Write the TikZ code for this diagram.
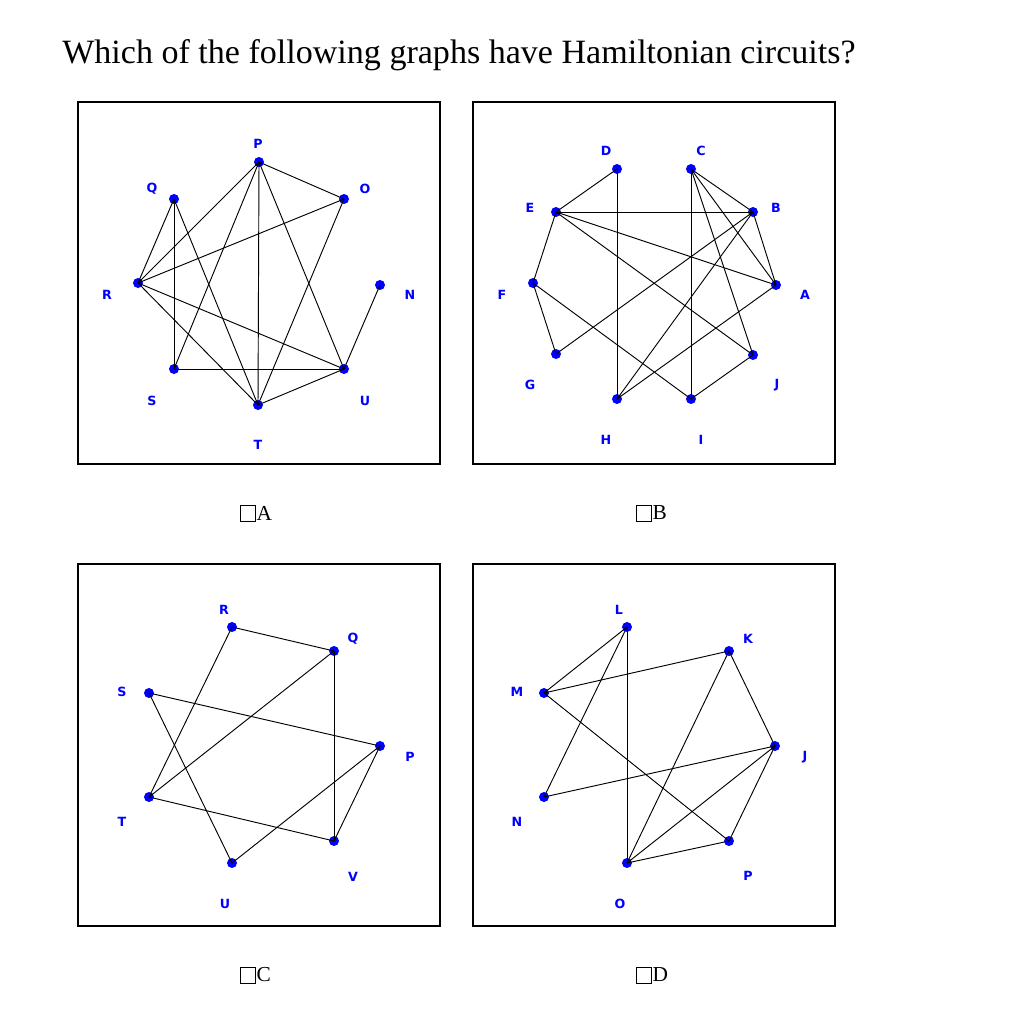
\documentclass[tikz,border=0pt]{standalone}
\usepackage{fontspec}
\setmainfont{Liberation Serif}
\newfontfamily\lblfont{DejaVu Sans}
\begin{document}
\begin{tikzpicture}[x=0.75pt,y=-0.75pt,
  vtx/.style={circle,fill=blue,inner sep=0pt,minimum size=7.5pt},
  lbl/.style={text=blue,font=\lblfont\bfseries\fontsize{9.5}{10}\selectfont,inner sep=0pt},
  edge/.style={draw=black,line width=0.7pt},
  panel/.style={draw=black,line width=1pt},
  choice/.style={font=\fontsize{16}{18}\selectfont,inner sep=0pt}]
\useasboundingbox (0,0) rectangle (1019,1024);
\node[anchor=west,inner sep=0pt] (title) at (62,55) {\resizebox{595pt}{!}{\fontsize{21}{24}\selectfont Which of the following graphs have Hamiltonian circuits?}};
% panels
\draw[panel] (78,102) rectangle (440,464);
\draw[panel] (473,102) rectangle (835,464);
\draw[panel] (78,564) rectangle (440,926);
\draw[panel] (473,564) rectangle (835,926);
% choices
\newcommand{\chk}[3]{\node[draw,line width=0.6pt,minimum width=11pt,minimum height=12pt,inner sep=0pt] (#3box) at (#1,#2) {};
  \node[choice,anchor=west] (#3lab) at ([xshift=0.5pt]#3box.east) {#3};}
\chk{248}{513}{A}
\chk{644}{513}{B}
\chk{248}{975}{C}
\chk{644}{975}{D}
% ---- Graph A
\begin{scope}
\node[vtx] (aP) at (259,162) {}; \node[vtx] (aQ) at (174,199) {};
\node[vtx] (aO) at (344,199) {}; \node[vtx] (aR) at (138,283) {};
\node[vtx] (aN) at (380,285) {}; \node[vtx] (aS) at (174,369) {};
\node[vtx] (aU) at (344,369) {}; \node[vtx] (aT) at (258,405) {};
\node[lbl] (laP) at (258,144) {P}; \node[lbl] (laQ) at (152,189) {Q};
\node[lbl] (laO) at (365,189) {O}; \node[lbl] (laR) at (107,295) {R};
\node[lbl] (laN) at (410,295) {N}; \node[lbl] (laS) at (152,401) {S};
\node[lbl] (laU) at (365,401) {U}; \node[lbl] (laT) at (258,445) {T};
\foreach \a/\b in {aP/aO,aP/aR,aP/aS,aP/aT,aP/aU,aQ/aR,aQ/aS,aQ/aT,aO/aR,aO/aT,aR/aU,aR/aT,aS/aU,aT/aU,aN/aU}
  \draw[edge] (\a.center) -- (\b.center);
\end{scope}
% ---- Graph B
\begin{scope}
\node[vtx] (bD) at (617,169) {}; \node[vtx] (bC) at (691,169) {};
\node[vtx] (bE) at (556,212) {}; \node[vtx] (bB) at (753,212) {};
\node[vtx] (bF) at (533,283) {}; \node[vtx] (bA) at (776,285) {};
\node[vtx] (bG) at (556,354) {}; \node[vtx] (bJ) at (753,355) {};
\node[vtx] (bH) at (617,399) {}; \node[vtx] (bI) at (691,399) {};
\node[lbl] (lbD) at (606,151) {D}; \node[lbl] (lbC) at (701,151) {C};
\node[lbl] (lbE) at (530,208) {E}; \node[lbl] (lbB) at (776,208) {B};
\node[lbl] (lbF) at (502,295) {F}; \node[lbl] (lbA) at (805,295) {A};
\node[lbl] (lbG) at (530,385) {G}; \node[lbl] (lbJ) at (777,385) {J};
\node[lbl] (lbH) at (606,440) {H}; \node[lbl] (lbI) at (701,440) {I};
\foreach \a/\b in {bD/bE,bD/bH,bE/bB,bE/bA,bE/bJ,bE/bF,bF/bG,bF/bI,bC/bI,bC/bB,bC/bA,bC/bJ,bB/bA,bB/bG,bB/bH,bA/bH,bJ/bI}
  \draw[edge] (\a.center) -- (\b.center);
\end{scope}
% ---- Graph C
\begin{scope}
\node[vtx] (cR) at (232,627) {}; \node[vtx] (cQ) at (334,651) {};
\node[vtx] (cS) at (149,693) {}; \node[vtx] (cP) at (380,746) {};
\node[vtx] (cT) at (149,797) {}; \node[vtx] (cV) at (334,841) {};
\node[vtx] (cU) at (232,863) {};
\node[lbl] (lcR) at (224,610) {R}; \node[lbl] (lcQ) at (353,639) {Q};
\node[lbl] (lcS) at (122,692) {S}; \node[lbl] (lcP) at (410,757) {P};
\node[lbl] (lcT) at (122,822) {T}; \node[lbl] (lcV) at (353,877) {V};
\node[lbl] (lcU) at (225,904) {U};
\foreach \a/\b in {cR/cQ,cR/cT,cQ/cT,cQ/cV,cS/cP,cS/cU,cP/cU,cP/cV,cT/cV}
  \draw[edge] (\a.center) -- (\b.center);
\end{scope}
% ---- Graph D
\begin{scope}
\node[vtx] (dL) at (627,627) {}; \node[vtx] (dK) at (729,651) {};
\node[vtx] (dM) at (544,693) {}; \node[vtx] (dJ) at (775,746) {};
\node[vtx] (dN) at (544,797) {}; \node[vtx] (dP) at (729,841) {};
\node[vtx] (dO) at (627,863) {};
\node[lbl] (ldL) at (619,610) {L}; \node[lbl] (ldK) at (748,639) {K};
\node[lbl] (ldM) at (517,692) {M}; \node[lbl] (ldJ) at (805,757) {J};
\node[lbl] (ldN) at (517,822) {N}; \node[lbl] (ldP) at (748,876) {P};
\node[lbl] (ldO) at (620,904) {O};
\foreach \a/\b in {dL/dM,dL/dN,dL/dO,dM/dK,dM/dP,dK/dJ,dK/dO,dJ/dN,dJ/dO,dJ/dP,dP/dO}
  \draw[edge] (\a.center) -- (\b.center);
\end{scope}
\end{tikzpicture}
\end{document}
